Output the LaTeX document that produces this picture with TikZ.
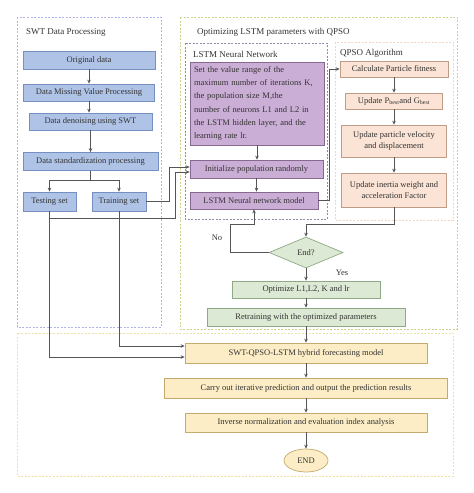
\documentclass[tikz,border=0pt]{standalone}
\usepackage{fontspec}
\setmainfont{Liberation Serif}
\usetikzlibrary{shapes.geometric,arrows.meta}

\definecolor{swtfill}{HTML}{AFC3E6}
\definecolor{swtline}{HTML}{7590C0}
\definecolor{lstmfill}{HTML}{CBAED6}
\definecolor{lstmline}{HTML}{86698F}
\definecolor{qpsofill}{HTML}{FBE4D5}
\definecolor{qpsoline}{HTML}{BF9C88}
\definecolor{optfill}{HTML}{DCE9D4}
\definecolor{optline}{HTML}{8FA985}
\definecolor{predfill}{HTML}{FCEDC6}
\definecolor{predline}{HTML}{C4AA6C}
\definecolor{linegray}{HTML}{555555}
\definecolor{txtgray}{HTML}{333333}
\definecolor{swtframe}{HTML}{B0B4EA}
\definecolor{optframe}{HTML}{CDD38A}
\definecolor{lstmframe}{HTML}{8C8CAA}
\definecolor{qpsoframe}{HTML}{F2D6C2}
\definecolor{predframe}{HTML}{EEE2A4}

\begin{document}
\begin{tikzpicture}[x=1pt,y=-1pt,
		box/.style={draw,line width=0.7pt,inner sep=1pt,text=txtgray,
			font=\fontsize{8.5}{10.5}\selectfont},
		swtbox/.style={box,fill=swtfill,draw=swtline},
		lstmbox/.style={box,fill=lstmfill,draw=lstmline},
		qpsobox/.style={box,fill=qpsofill,draw=qpsoline,align=center},
		optbox/.style={box,fill=optfill,draw=optline},
		predbox/.style={box,fill=predfill,draw=predline},
		frame/.style={line width=0.7pt,dash pattern=on 2pt off 1.5pt},
		title/.style={anchor=west,inner sep=0pt,text=txtgray,
			font=\fontsize{9}{11}\selectfont},
		arr/.style={draw=linegray,line width=0.7pt,-{Stealth[length=4pt,width=3.5pt]}},
		link/.style={draw=linegray,line width=0.7pt}]
	\useasboundingbox (0,0) rectangle (474,493);

	% dashed frames
	\draw[frame,draw=swtframe] (17,17) rectangle (161,327);
	\draw[frame,draw=optframe] (180,17) rectangle (457,329);
	\draw[frame,draw=lstmframe] (185,43) rectangle (327,219);
	\draw[frame,draw=qpsoframe] (335,42) rectangle (453,220);
	\draw[frame,draw=predframe] (17,333) rectangle (453,476);

	\node[title] (swttitle) at (26,32) {SWT Data Processing};
	\node[title] (opttitle) at (197,32) {Optimizing LSTM parameters with QPSO};
	\node[title] (lstmtitle) at (193,54) {LSTM Neural Network};
	\node[title] (qpsotitle) at (340,53) {QPSO Algorithm};

	% SWT data processing
	\node[swtbox,minimum width=132pt,minimum height=18pt] (orig) at (89,60) {Original data};
	\node[swtbox,minimum width=131pt,minimum height=17pt] (missing) at (89,92.5) {Data Missing Value Processing};
	\node[swtbox,minimum width=123pt,minimum height=17pt] (denoise) at (90.5,121.5) {Data denoising using SWT};
	\node[swtbox,minimum width=135pt,minimum height=18pt] (stand) at (90.5,161.5) {Data standardization processing};
	\node[swtbox,minimum width=53pt,minimum height=19pt] (test) at (49.5,201.5) {Testing set};
	\node[swtbox,minimum width=54pt,minimum height=19pt] (train) at (119,201.5) {Training set};

	% LSTM neural network
	\node[lstmbox,minimum width=134pt,minimum height=83pt,text width=126pt,align=left,
		font=\fontsize{8.5}{13.2}\selectfont] (range) at (257,103.5)
		{Set the value range of the\\maximum number of iterations K,\\the population size M,the\\number of neurons L1 and L2 in\\the LSTM hidden layer, and the\\learning rate lr.};
	\node[lstmbox,minimum width=133pt,minimum height=18pt] (init) at (256.5,169) {Initialize population randomly};
	\node[lstmbox,minimum width=128pt,minimum height=17pt] (model) at (254,200.5) {LSTM Neural network model};

	% QPSO algorithm
	\node[qpsobox,minimum width=108pt,minimum height=16pt] (fitness) at (394,69) {Calculate Particle fitness};
	\node[qpsobox,minimum width=97pt,minimum height=16pt] (best) at (394,101) {Update P\textsubscript{best}and G\textsubscript{best}};
	\node[qpsobox,minimum width=105pt,minimum height=32pt] (velocity) at (394,141) {Update particle velocity\\and displacement};
	\node[qpsobox,minimum width=105pt,minimum height=34pt] (inertia) at (394,190) {Update inertia weight and\\acceleration Factor};

	% judge and retrain
	\node[optbox,diamond,aspect=2.4,inner sep=0pt,minimum width=74pt,minimum height=31pt] (endq) at (306,252.5) {End?};
	\node[optbox,minimum width=148pt,minimum height=17pt] (opt) at (306,289.5) {Optimize L1,L2, K and lr};
	\node[optbox,minimum width=198pt,minimum height=18pt] (retrain) at (306,317) {Retraining with the optimized parameters};

	% prediction
	\node[predbox,minimum width=242pt,minimum height=20pt] (hybrid) at (306,353) {SWT-QPSO-LSTM hybrid forecasting model};
	\node[predbox,minimum width=283pt,minimum height=20pt] (carry) at (306,388) {Carry out iterative prediction and output the prediction results};
	\node[predbox,minimum width=242pt,minimum height=19pt] (inverse) at (306,422.5) {Inverse normalization and evaluation index analysis};
	\node[predbox,ellipse,inner sep=0pt,minimum width=44pt,minimum height=23pt] (finish) at (306,460.5) {END};

	\node[title,anchor=center,font=\fontsize{8.5}{10}\selectfont] (no) at (217,238) {No};
	\node[title,anchor=center,font=\fontsize{8.5}{10}\selectfont] (yes) at (342,273) {Yes};

	% connectors
	\draw[arr] (orig.south) -- (orig.south |- missing.north);
	\draw[arr] (missing.south) -- (missing.south |- denoise.north);
	\draw[arr] (denoise.south) -- (denoise.south |- stand.north);
	\draw[link] (stand.south) -- ++(0,9) coordinate (split);
	\draw[arr] (split) -| (test.north);
	\draw[arr] (split) -| (train.north);

	\draw[arr] (train.east) -| ([xshift=-20pt,yshift=2pt]init.west) -- ([yshift=2pt]init.west);
	\draw[arr] ([yshift=-7pt]test.south) -| ([xshift=-14pt,yshift=-3pt]init.west) -- ([yshift=-3pt]init.west);
	\draw[arr] (test.south) |- ([yshift=-4pt]hybrid.west);
	\draw[arr] (train.south) |- ([yshift=7pt]hybrid.west);

	\draw[arr] (range.south) -- (range.south |- init.north);
	\draw[arr] (init.south) -- (init.south |- model.north);
	\draw[arr] (model.east) -- ++(11,0) |- (fitness.west);

	\draw[arr] (fitness) -- (best);
	\draw[arr] (best) -- (velocity);
	\draw[arr] (velocity) -- (inertia);
	\draw[arr] (inertia.south) -- ++(0,17) -| (endq.north);

	\draw[arr] (endq.west) -- ++(-38,0) |- ([yshift=-15pt]model.south) -- (model.south);
	\draw[arr] (endq) -- (opt);
	\draw[arr] (opt) -- (retrain);
	\draw[arr] (retrain) -- (hybrid);
	\draw[arr] (hybrid) -- (carry);
	\draw[arr] (carry) -- (inverse);
	\draw[arr] (inverse) -- (finish);
\end{tikzpicture}
\end{document}
